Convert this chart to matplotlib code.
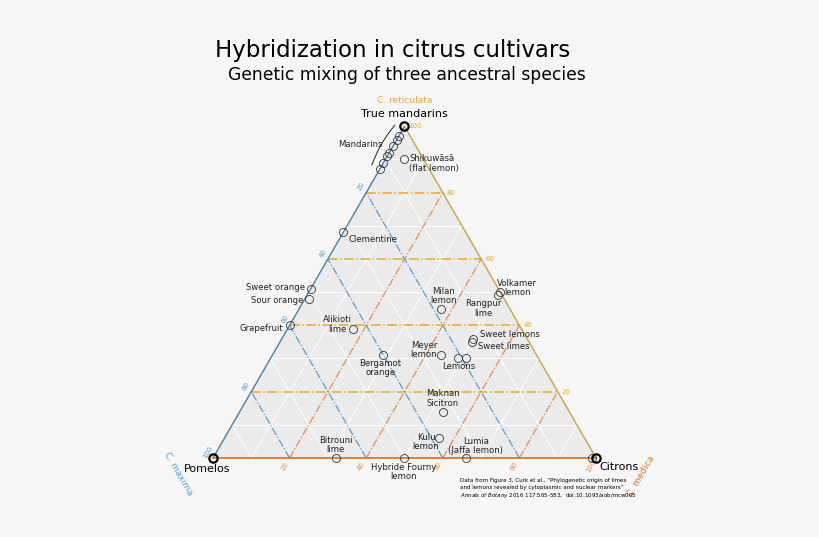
import numpy as np
import matplotlib.pyplot as plt

# cultivars: % of C. reticulata / C. maxima / C. medica
names = ["True mandarins", "Pomelos", "Citrons", "Shikuwāsā\n(flat lemon)", "Clementine",
         "Sweet orange", "Sour orange", "Grapefruit", "Alikioti\nlime", "Milan\nlemon",
         "Rangpur\nlime", "Volkamer\nlemon", "Sweet lemons", "Sweet limes", "Meyer\nlemon",
         "Lemons", "Bergamot\norange", "Maknan\nSicitron", "Kulu\nlemon",
         "Lumia\n(Jaffa lemon)", "Hybride Fourny\nlemon", "Bitrouni\nlime"]
reticulata = [100, 0, 0, 90, 68, 51, 48, 40, 39, 45, 49, 50, 36, 35, 31, 30, 31, 14, 6, 0, 0, 0]
maxima = [0, 100, 0, 5, 32, 49, 51, 60, 44, 18, 1, 0, 14, 15, 25, 21, 40, 33, 38, 34, 50, 68]
medica = [0, 0, 100, 5, 0, 0, 1, 0, 17, 37, 50, 50, 50, 50, 44, 49, 29, 53, 56, 66, 50, 32]

# extra unlabelled accessions
extra_reticulata = [0, 30]
extra_maxima = [1, 19]
extra_medica = [99, 51]

# mandarin group along the left edge
mand_reticulata = [97, 96, 94, 92, 91, 89, 87]
mand_maxima = [3, 4, 6, 8, 9, 11, 13]
mand_medica = [0, 0, 0, 0, 0, 0, 0]

ticks = [20, 40, 60, 80, 100]

# label placement (pixels offset, alignment)
lab = {
    "True mandarins": (0, 12, "center"), "Pomelos": (-6, -11, "center"),
    "Citrons": (3, -9, "left"), "Shikuwāsā\n(flat lemon)": (5, -4, "left"),
    "Clementine": (5, -7, "left"), "Sweet orange": (-6, 1, "right"),
    "Sour orange": (-5, -2, "right"), "Grapefruit": (-6, -3, "right"),
    "Alikioti\nlime": (-15, 4, "center"), "Milan\nlemon": (3, 13, "center"),
    "Rangpur\nlime": (-15, -13, "center"), "Volkamer\nlemon": (17, 4, "center"),
    "Sweet lemons": (7, 4, "left"), "Sweet limes": (6, -5, "left"),
    "Meyer\nlemon": (-17, 5, "center"), "Lemons": (1, -8, "center"),
    "Bergamot\norange": (-3, -13, "center"), "Maknan\nSicitron": (0, 13, "center"),
    "Kulu\nlemon": (-13, -4, "center"), "Lumia\n(Jaffa lemon)": (10, 12, "center"),
    "Hybride Fourny\nlemon": (-1, -14, "center"), "Bitrouni\nlime": (0, 13, "center"),
}

H = np.sqrt(3) / 2


def tern(r, mx, md):
    r = np.asarray(r, float) / 100
    md = np.asarray(md, float) / 100
    return md + r / 2, r * H


c_max = "#4a80ab"
c_med = "#d9762f"
c_ret = "#cfa23e"
c_max_l = "#5b9bd0"
c_med_l = "#e58c4f"
c_ret_l = "#e6ab30"

fig = plt.figure(figsize=(8.2, 5.37), dpi=100, facecolor="#f6f6f6")
ax = fig.add_axes([0, 0, 1, 1])
ax.set_facecolor("#f6f6f6")
s = 383.0
ax.set_xlim(-213 / s, (820 - 213) / s)
ax.set_ylim(-(537 - 458) / s, 458 / s)
ax.axis("off")

ax.fill([0, 1, 0.5], [0, 0, H], color="#ebebeb", zorder=0)

# minor white grid every 10
for v in range(10, 100, 10):
    if v % 20 == 0:
        continue
    f = v / 100
    ax.plot([f / 2, 1 - f / 2], [f * H, f * H], color="white", lw=0.7, zorder=1)
    ax.plot([f, f / 2 + 0.5], [0, (1 - f) * H], color="white", lw=0.7, zorder=1)
    ax.plot([1 - f, (1 - f) / 2], [0, (1 - f) * H], color="white", lw=0.7, zorder=1)

# major dash-dot grid
for v in ticks[:-1]:
    f = v / 100
    ax.plot([f / 2, 1 - f / 2], [f * H, f * H], color=c_ret_l, lw=1.1, ls="-.", zorder=2)
    ax.plot([f, f / 2 + 0.5], [0, (1 - f) * H], color=c_med_l, lw=0.9, ls="-.", zorder=2)
    ax.plot([1 - f, (1 - f) / 2], [0, (1 - f) * H], color=c_max_l, lw=0.9, ls="-.", zorder=2)

# edges
ax.plot([0, 0.5], [0, H], color=c_max, lw=1.0, zorder=3)
ax.plot([0.5, 1], [H, 0], color=c_ret, lw=1.0, zorder=3)
ax.plot([0, 1], [0, 0], color=c_med, lw=1.3, zorder=3)

# tick labels
for v in ticks:
    f = v / 100
    ax.annotate(str(v), (0.5 - f / 2, (1 - f) * H), xytext=(-5, 6), textcoords="offset pixels",
                rotation=60, ha="center", va="center", fontsize=5, color=c_max_l)
    ax.annotate(str(v), (f, 0), xytext=(-5, -8), textcoords="offset pixels",
                rotation=60, ha="center", va="center", fontsize=5, color=c_med_l)
    ax.annotate(str(v), (1 - f / 2, f * H), xytext=(4, 0), textcoords="offset pixels",
                ha="left", va="center", fontsize=5, color=c_ret_l)

# axis titles
ax.annotate("C. reticulata", (0.5, H), xytext=(0, 26), textcoords="offset pixels",
            ha="center", va="center", fontsize=6.5, color=c_ret_l)
ax.annotate("C. maxima", (0, 0), xytext=(-35, -16), textcoords="offset pixels",
            ha="center", va="center", fontsize=6.5, rotation=-60, color=c_max_l)
ax.annotate("C. medica", (1, 0), xytext=(45, -18), textcoords="offset pixels",
            ha="center", va="center", fontsize=6.5, rotation=60, color=c_med)

# points
x, y = tern(reticulata, maxima, medica)
ex, ey = tern(extra_reticulata, extra_maxima, extra_medica)
mx_, my_ = tern(mand_reticulata, mand_maxima, mand_medica)
ax.plot(np.r_[x[3:], ex, mx_], np.r_[y[3:], ey, my_], "o", ms=5.8, mfc="none",
        mec="#333333", mew=0.6, zorder=5)
ax.plot(x[:3], y[:3], "o", ms=6, mfc="none", mec="black", mew=1.6, zorder=6)

for i, n in enumerate(names):
    dx, dy, ha = lab[n]
    fs = 8 if i < 3 else 6.1
    ax.annotate(n, (x[i], y[i]), xytext=(dx, dy), textcoords="offset pixels",
                ha=ha, va="center", fontsize=fs, color="black" if i < 3 else "#222222",
                linespacing=1.05, zorder=7)

# mandarins bracket
nrm = np.array([-np.sqrt(3) / 2, 0.5]) * 9 / s
bx = np.linspace(mx_[-1], mx_[0] + 0.01, 20) + nrm[0]
by = np.linspace(my_[-1], my_[0] + 0.01 * np.sqrt(3), 20) + nrm[1]
bend = np.sin(np.linspace(0, np.pi, 20)) * 2 / s
ax.plot(bx - bend * 0.866, by + bend * 0.5, color="#222222", lw=0.7, zorder=4)
ax.annotate("Mandarins", (mx_[3], my_[3]), xytext=(-7, 8), textcoords="offset pixels",
            ha="right", va="center", fontsize=6.1, color="#222222")

# titles
fig.text(393 / 820, 1 - 50 / 537, "Hybridization in citrus cultivars", ha="center", va="center",
         fontsize=16.5)
fig.text(407 / 820, 1 - 75 / 537, "Genetic mixing of three ancestral species", ha="center",
         va="center", fontsize=12.3)

note = ("Data from Figure 3, Curk et al., \u201cPhylogenetic origin of limes\n"
        "and lemons revealed by cytoplasmic and nuclear markers\u201d")
fig.text(460 / 820, 1 - 484 / 537, note, ha="left", va="center", fontsize=4, linespacing=1.3)
fig.text(460 / 820, 1 - 496 / 537, r"$\it{Annals\ of\ Botany}$ 2016 117:565-583,  doi:10.1093/aob/mcw005",
         ha="left", va="center", fontsize=4)

fig.savefig("out.png", dpi=100, facecolor=fig.get_facecolor())
